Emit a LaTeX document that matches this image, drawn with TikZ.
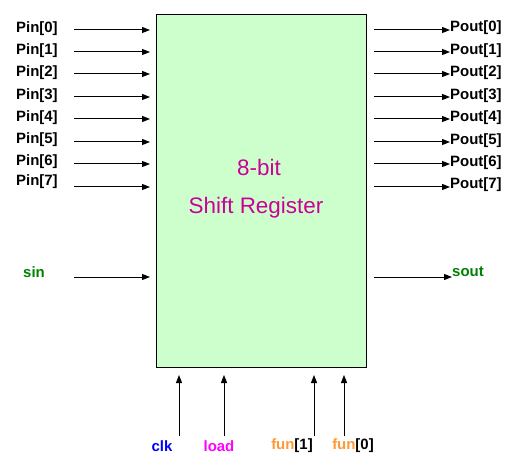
\documentclass[tikz,border=0pt]{standalone}
\usepackage{fontspec}
\setmainfont{Liberation Sans}
\usetikzlibrary{arrows.meta}
\definecolor{boxfill}{HTML}{CCFFCC}
\definecolor{titlecol}{HTML}{CC0099}
\definecolor{sigg}{HTML}{008000}
\definecolor{clkc}{HTML}{0000FF}
\definecolor{loadc}{HTML}{FF00FF}
\definecolor{func}{HTML}{FF9933}
\begin{document}
\begin{tikzpicture}[x=1bp,y=-1bp,
  lab/.style={inner sep=0pt,font=\fontsize{15}{15}\selectfont\bfseries},
  sig/.style={line width=1bp,-{Triangle[length=8bp,width=6bp]}},
  title/.style={inner sep=0pt,text=titlecol,font=\fontsize{22.5}{22.5}\selectfont}]
\useasboundingbox (0,0) rectangle (521,463);
\node[draw=black,line width=1bp,fill=boxfill,minimum width=210bp,minimum height=352bp,inner sep=0pt] (reg) at (261,191) {};
\node[title] (t1) at (259,167) {8-bit};
\node[title] (t2) at (256,208) {Shift Register};
% inputs
\foreach \i/\ty/\ay in {0/29/30,1/51/52,2/73/74,3/96/97,4/118/119,5/140/142,6/162/164,7/182/187}{
  \node[lab,anchor=west] (pin\i) at (16,\ty) {Pin[\i]};
  \coordinate (ia\i) at (74,\ay);
  \coordinate (ib\i) at (150,\ay);
  \draw[sig] (ia\i) -- (ib\i);
}
% outputs
\foreach \i/\ty/\ay in {0/28/30,1/51/52,2/73/74,3/96/97,4/118/119,5/141/142,6/163/164,7/185/187}{
  \node[lab,anchor=west] (pout\i) at (450,\ty) {Pout[\i]};
  \coordinate (oa\i) at (374,\ay);
  \draw[sig] (oa\i) -- (pout\i.west |- oa\i);
}
% serial
\node[lab,anchor=west,text=sigg] (sin) at (23,272) {sin};
\coordinate (sa) at (74,277);
\coordinate (sb) at (150,277);
\draw[sig] (sa) -- (sb);
\node[lab,anchor=west,text=sigg] (sout) at (452,272) {sout};
\coordinate (soa) at (374,277);
\draw[sig] (soa) -- (sout.west |- soa);
% bottom controls
\node[lab,text=clkc] (clk) at (162,446) {clk};
\node[lab,text=loadc] (load) at (219,446) {load};
\node[lab] (f1) at (292,446) {\textcolor{func}{fun}[1]};
\node[lab] (f0) at (353,446) {\textcolor{func}{fun}[0]};
\foreach \n/\x in {clk/179,load/224,f1/314,f0/344}{
  \coordinate (\n a) at (\x,436);
  \coordinate (\n b) at (\x,375);
  \draw[sig] (\n a) -- (\n b);
}
\end{tikzpicture}
\end{document}
